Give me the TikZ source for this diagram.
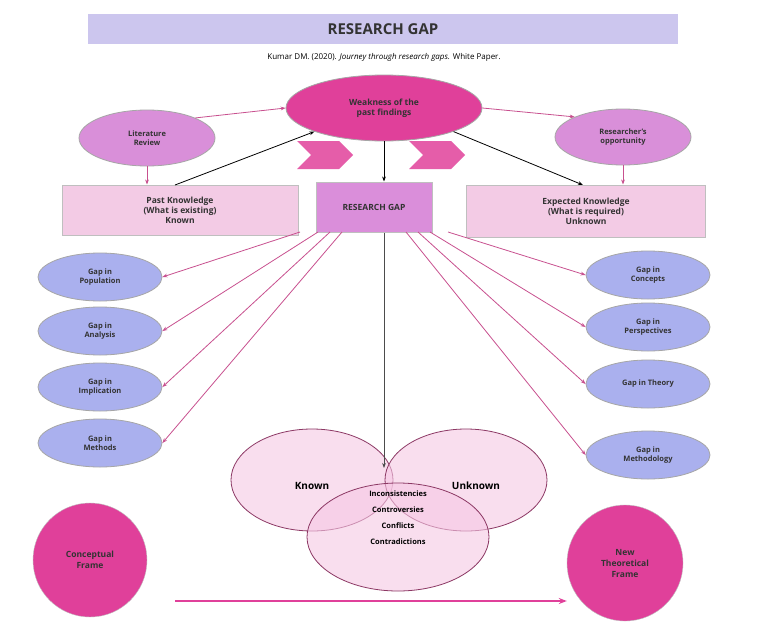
\documentclass[tikz,border=0pt]{standalone}
\usepackage{fontspec}
\setmainfont{Open Sans}
\usetikzlibrary{shapes.geometric,shapes.symbols,arrows.meta}
\definecolor{mag}{HTML}{E0409A}
\definecolor{lpur}{HTML}{D98FD9}
\definecolor{pbox}{HTML}{F3CBE5}
\definecolor{rg}{HTML}{DA8EDA}
\definecolor{blu}{HTML}{AAB0EE}
\definecolor{lnk}{HTML}{C8508F}
\definecolor{tbar}{HTML}{CCC6EE}
\definecolor{vfill}{HTML}{F6C8E4}
\begin{document}
\begin{tikzpicture}[x=1pt,y=-1pt,
 ell/.style={ellipse,draw=gray!70,line width=0.8pt,align=center,font=\bfseries\fontsize{7.5}{9}\selectfont,text=black!80},
 box/.style={rectangle,draw=gray!50,line width=1pt,fill=pbox,align=center,font=\bfseries\fontsize{8.5}{10}\selectfont,text=black!80},
 gap/.style={ell,fill=blu,minimum width=124pt,minimum height=48pt},
 pl/.style={lnk,line width=0.8pt,-{Stealth[length=5pt]}},
 bl/.style={black,line width=0.8pt,-{Stealth[length=5pt]}},
 venn/.style={ellipse,draw=lnk!70!black,line width=0.8pt,fill=vfill,fill opacity=0.6}]
\useasboundingbox (0,0) rectangle (768,640);
\fill[white] (0,0) rectangle (768,640);
\node[fill=tbar,minimum width=590pt,minimum height=30pt,font=\bfseries\fontsize{15}{17}\selectfont,text=black!80] (title) at (383,29) {RESEARCH GAP};
\node[font=\fontsize{8}{10}\selectfont] (cite) at (384,57) {Kumar DM. (2020). \textit{Journey through research gaps.} White Paper.};
\node[ell,fill=mag,minimum width=196pt,minimum height=66pt,font=\bfseries\fontsize{8.5}{10}\selectfont] (weak) at (384,108) {Weakness of the\\past findings};
\node[ell,fill=lpur,minimum width=136pt,minimum height=56pt] (lit) at (147,138) {Literature\\Review};
\node[ell,fill=lpur,minimum width=136pt,minimum height=56pt] (res) at (623,137) {Researcher's\\opportunity};
\node[box,minimum width=236pt,minimum height=50pt] (past) at (180,210) {Past Knowledge\\(What is existing)\\Known};
\node[box,fill=rg,minimum width=116pt,minimum height=50pt] (rgap) at (374,207) {RESEARCH GAP};
\node[box,minimum width=239pt,minimum height=52pt] (exp) at (586,211) {Expected Knowledge\\(What is required)\\Unknown};
\node[signal,signal to=east,signal from=west,fill=mag!85,minimum width=56pt,minimum height=28pt] (a1) at (325,155) {};
\node[signal,signal to=east,signal from=west,fill=mag!85,minimum width=56pt,minimum height=28pt] (a2) at (437,155) {};
\node[gap] (g1) at (100,277) {Gap in\\Population};
\node[gap] (g2) at (100,331) {Gap in\\Analysis};
\node[gap] (g3) at (100,387) {Gap in\\Implication};
\node[gap] (g4) at (100,443) {Gap in\\Methods};
\node[gap] (h1) at (648,275) {Gap in\\Concepts};
\node[gap] (h2) at (648,327) {Gap in\\Perspectives};
\node[gap] (h3) at (648,384) {Gap in Theory};
\node[gap] (h4) at (648,455) {Gap in\\Methodology};
% connectors
\draw[pl] (lit.north east) to (weak.west);
\draw[pl] (weak.east) to (res.north west);
\draw[pl] (lit.south) -- (lit.south|-past.north);
\draw[pl] (res.south) -- (res.south|-exp.north);
\coordinate (p1) at (175,185);
\coordinate (e1) at (583,185);
\draw[bl] (p1) -- (weak.south west);
\draw[bl] (weak.south) -- (weak.south|-rgap.north);
\draw[bl] (weak.south east) -- (e1);
\coordinate (r1) at (300,232);\coordinate (r2) at (318,232);\coordinate (r3) at (330,232);\coordinate (r4) at (342,232);
\coordinate (s1) at (448,232);\coordinate (s2) at (430,232);\coordinate (s3) at (418,232);\coordinate (s4) at (406,232);
\draw[pl] (r1) -- (g1.east);
\draw[pl] (r2) -- (g2.east);
\draw[pl] (r3) -- (g3.east);
\draw[pl] (r4) -- (g4.east);
\draw[pl] (s1) -- (h1.west);
\draw[pl] (s2) -- (h2.west);
\draw[pl] (s3) -- (h3.west);
\draw[pl] (s4) -- (h4.west);
% venn
\node[venn,minimum width=162pt,minimum height=102pt] (kn) at (312,480) {};
\node[venn,minimum width=162pt,minimum height=102pt] (un) at (466,480) {};
\node[venn,minimum width=182pt,minimum height=108pt] (mid) at (398,537) {};
\coordinate (vtop) at (384,468);
\draw[bl,black!70] (vtop|-rgap.south) -- (vtop);
\node[font=\bfseries\fontsize{10}{12}\selectfont] (knt) at (312,486) {Known};
\node[font=\bfseries\fontsize{10}{12}\selectfont] (unt) at (476,486) {Unknown};
\node[align=center,font=\bfseries\fontsize{7.5}{16}\selectfont] (vt) at (398,518) {Inconsistencies\\Controversies\\Conflicts\\Contradictions};
% frames
\node[circle,fill=mag,draw=gray!50,minimum size=114pt,align=center,font=\bfseries\fontsize{8.5}{11}\selectfont,text=black!80] (cf) at (90,560) {Conceptual\\Frame};
\node[circle,fill=mag,draw=gray!50,minimum size=116pt,align=center,font=\bfseries\fontsize{8.5}{11}\selectfont,text=black!80] (nf) at (625,563) {New\\Theoretical\\Frame};
\coordinate (b0) at (175,601);
\draw[mag,line width=2.5pt,-{Stealth[length=8pt]}] (b0) -- (nf.west|-b0);
\end{tikzpicture}
\end{document}
